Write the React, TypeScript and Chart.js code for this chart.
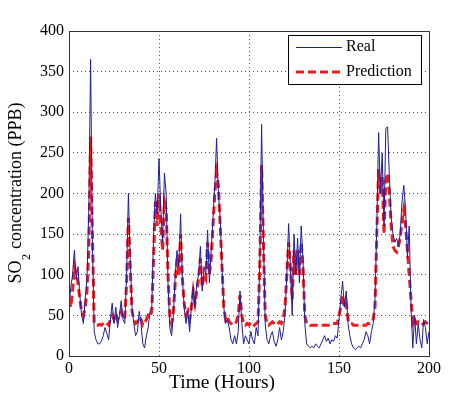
import React, { useEffect, useRef } from "react";
import { Chart, registerables } from "chart.js";
Chart.register(...registerables);

const hours: number[] = Array.from({ length: 201 }, (_, i) => i);

const realValues: number[] = [
  60, 85, 100, 130, 95, 110, 75, 50, 40, 70,
  95, 180, 365, 140, 30, 20, 15, 15, 18, 25,
  35, 28, 20, 45, 65, 40, 60, 35, 50, 68,
  45, 40, 100, 200, 120, 60, 40, 25, 30, 55,
  40, 15, 10, 25, 35, 55, 60, 150, 200, 175,
  243, 180, 140, 225, 200, 90, 35, 25, 50, 100,
  130, 110, 175, 95, 60, 40, 55, 30, 60, 85,
  60, 90, 100, 135, 80, 110, 100, 155, 90, 130,
  170, 210, 268, 200, 170, 110, 60, 40, 45, 35,
  20, 15, 25, 15, 30, 80, 40, 15, 25, 20,
  15, 30, 20, 15, 35, 25, 120, 285, 150, 40,
  20, 15, 25, 30, 18, 12, 20, 35, 20, 30,
  50, 100, 163, 110, 50, 150, 100, 145, 90, 160,
  120, 40, 15, 12, 10, 12, 10, 15, 12, 10,
  15, 20, 25, 18, 22, 15, 20, 18, 25, 22,
  45, 70, 92, 60, 80, 40, 25, 15, 10, 8,
  10, 12, 10, 15, 20, 30, 25, 15, 30, 40,
  70, 160, 275, 200, 250, 160, 280, 282, 220, 170,
  150, 140, 145, 135, 150, 190, 210, 180, 120, 160,
  60, 10, 50, 15, 40, 20, 10, 45, 35, 15,
  30,
];

const predictionValues: number[] = [
  70, 60, 80, 110, 100, 90, 70, 55, 50, 60,
  80, 130, 270, 150, 40, 38, 38, 39, 38, 40,
  42, 40, 38, 45, 50, 45, 52, 45, 50, 55,
  45, 48, 90, 170, 110, 55, 45, 40, 42, 48,
  45, 38, 40, 45, 50, 48, 55, 120, 190, 160,
  200, 160, 130, 190, 180, 100, 50, 40, 55, 90,
  120, 100, 150, 95, 65, 50, 55, 45, 60, 80,
  65, 80, 95, 120, 85, 100, 95, 140, 100, 120,
  160, 200, 225, 210, 160, 110, 60, 45, 48, 42,
  40, 38, 40, 42, 50, 75, 50, 40, 38, 40,
  38, 42, 40, 38, 40, 42, 110, 235, 140, 50,
  40, 38, 40, 42, 40, 38, 40, 42, 40, 45,
  60, 100, 140, 110, 70, 130, 100, 130, 100, 140,
  110, 50, 40, 40, 38, 38, 38, 38, 38, 38,
  38, 38, 38, 38, 38, 38, 40, 40, 40, 40,
  50, 60, 75, 60, 65, 45, 40, 40, 38, 38,
  38, 38, 38, 38, 38, 38, 40, 40, 42, 45,
  60, 150, 230, 200, 220, 150, 215, 225, 200, 160,
  135, 130, 128, 135, 145, 165, 180, 160, 130, 100,
  70, 40, 45, 40, 42, 40, 38, 40, 42, 40,
  38,
];

const xTicks: number[] = [0, 50, 100, 150, 200];
const yTicks: number[] = [0, 50, 100, 150, 200, 250, 300, 350, 400];

const SERIF = "'Liberation Serif', 'DejaVu Serif', serif";

const overlayPlugin = {
  id: "overlay",
  afterDraw(chart: any) {
    const { ctx, chartArea } = chart;
    const { left, right, top, bottom } = chartArea;
    ctx.save();
    // frame
    ctx.strokeStyle = "#333";
    ctx.lineWidth = 1;
    ctx.setLineDash([]);
    ctx.strokeRect(left + 0.5, top + 0.5, right - left, bottom - top);

    // legend
    const lx = 288, ly = 35, lw = 133, lh = 49;
    ctx.fillStyle = "#fff";
    ctx.fillRect(lx, ly, lw, lh);
    ctx.strokeStyle = "#000";
    ctx.strokeRect(lx + 0.5, ly + 0.5, lw, lh);
    ctx.strokeStyle = "#1c1ca8";
    ctx.lineWidth = 1;
    ctx.beginPath();
    ctx.moveTo(296, 47.5);
    ctx.lineTo(342, 47.5);
    ctx.stroke();
    ctx.strokeStyle = "#ee1c1c";
    ctx.lineWidth = 3;
    ctx.setLineDash([8, 4]);
    ctx.beginPath();
    ctx.moveTo(296, 72);
    ctx.lineTo(342, 72);
    ctx.stroke();
    ctx.setLineDash([]);
    ctx.fillStyle = "#000";
    ctx.font = `16px ${SERIF}`;
    ctx.textBaseline = "middle";
    ctx.textAlign = "left";
    ctx.fillText("Real", 346, 47);
    ctx.fillText("Prediction", 346, 72);

    // x title
    ctx.font = `19.5px ${SERIF}`;
    ctx.textAlign = "center";
    ctx.textBaseline = "alphabetic";
    ctx.fillText("Time (Hours)", 222, 388);

    // y title
    ctx.translate(21, (top + bottom) / 2);
    ctx.rotate(-Math.PI / 2);
    const part1 = "SO";
    const part3 = " concentration (PPB)";
    ctx.font = `18px ${SERIF}`;
    const w1 = ctx.measureText(part1).width;
    const w3 = ctx.measureText(part3).width;
    ctx.font = `12px ${SERIF}`;
    const w2 = ctx.measureText("2").width;
    const total = w1 + w2 + w3;
    const x0 = -total / 2;
    ctx.textAlign = "left";
    ctx.font = `18px ${SERIF}`;
    ctx.fillText(part1, x0, 0);
    ctx.font = `12px ${SERIF}`;
    ctx.fillText("2", x0 + w1 + 0.5, 8.5);
    ctx.font = `18px ${SERIF}`;
    ctx.fillText(part3, x0 + w1 + w2 + 1, 0);
    ctx.restore();
  },
};

export default function App() {
  const ref = useRef<HTMLCanvasElement>(null);
  useEffect(() => {
    document.body.style.margin = "0";
    const chart = new Chart(ref.current!, {
      type: "line",
      data: {
        datasets: [
          {
            label: "Real",
            data: hours.map((h, i) => ({ x: h, y: realValues[i] })),
            borderColor: "#1c1ca8",
            borderWidth: 1,
            pointRadius: 0,
            tension: 0,
          },
          {
            label: "Prediction",
            data: hours.map((h, i) => ({ x: h, y: predictionValues[i] })),
            borderColor: "#ee1c1c",
            borderWidth: 3,
            borderDash: [8, 4],
            pointRadius: 0,
            tension: 0,
          },
        ],
      },
      options: {
        responsive: false,
        animation: false,
        layout: { padding: { top: 31, right: 45, left: 0, bottom: 0 } },
        plugins: { legend: { display: false }, tooltip: { enabled: false } },
        scales: {
          x: {
            type: "linear",
            min: 0,
            max: 200,
            afterBuildTicks: (s: any) => {
              s.ticks = xTicks.map((v) => ({ value: v }));
            },
            afterFit: (s: any) => {
              s.height = 43;
            },
            grid: { color: "#555", drawTicks: false, lineWidth: 1 },
            border: { display: false, dash: [1, 3] },
            ticks: {
              color: "#000",
              font: { family: SERIF, size: 16 },
              padding: 3,
              maxRotation: 0,
            },
          },
          y: {
            min: 0,
            max: 400,
            afterBuildTicks: (s: any) => {
              s.ticks = yTicks.map((v) => ({ value: v }));
            },
            afterFit: (s: any) => {
              s.width = 69;
            },
            grid: { color: "#555", drawTicks: false, lineWidth: 1 },
            border: { display: false, dash: [1, 3] },
            ticks: {
              color: "#000",
              font: { family: SERIF, size: 16 },
              padding: 5,
            },
          },
        },
      },
      plugins: [overlayPlugin],
    } as any);
    return () => chart.destroy();
  }, []);
  return (
    <div style={{ width: 474, height: 399, background: "#fff" }}>
      <canvas ref={ref} width={474} height={399} style={{ display: "block" }} />
    </div>
  );
}
